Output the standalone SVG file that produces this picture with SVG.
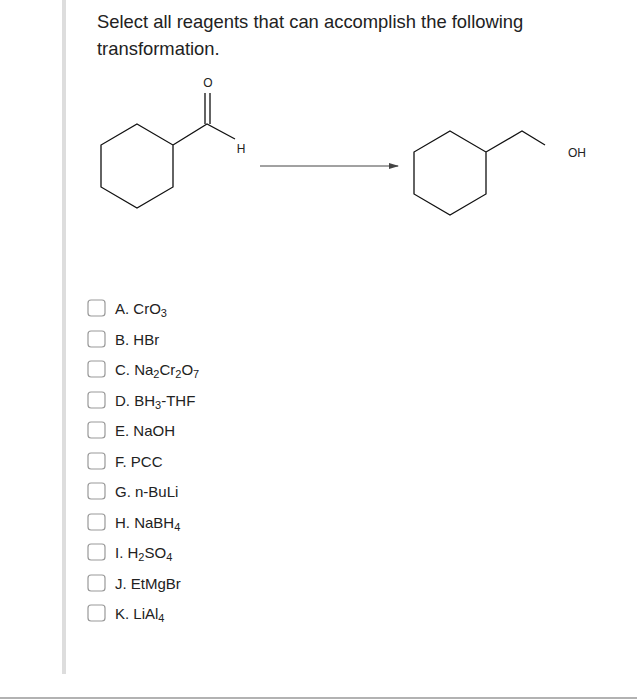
<svg xmlns="http://www.w3.org/2000/svg" width="637" height="700" viewBox="0 0 637 700">
<style>
text{font-family:"Liberation Sans",Arial,sans-serif;fill:#222}
.t{font-size:18.4px}
.o{font-size:15px}
.a{font-size:12px}
.b{fill:#fff;stroke:#999;stroke-width:1.2}
.m{fill:none;stroke:#111;stroke-width:1.3}
</style>
<defs><marker id="ar" markerWidth="10" markerHeight="8" refX="9" refY="4" orient="auto" markerUnits="userSpaceOnUse"><path d="M0,1 L10,4 L0,7 Z" fill="#444"/></marker></defs>
<rect width="637" height="700" fill="#fff"/>
<rect x="62" y="0" width="4" height="674" fill="#ddd"/>
<line x1="0" y1="698" x2="637" y2="698" stroke="#999" stroke-width="1.5"/>
<text class="t" x="97" y="28">Select all reagents that can accomplish the following</text>
<text class="t" x="97" y="55">transformation.</text>
<g id="reactant">
<path class="m" d="M137,124 L173,145 L173,187 L137,208 L101,187 L101,145 Z M173,145 L207,124 L235,139"/>
<path class="m" d="M205,124 L205,93 M210,124 L210,93"/>
<text class="a" x="208" y="87" text-anchor="middle">O</text>
<text class="a" x="241" y="153" text-anchor="middle">H</text>
</g>
<g id="connectors"><line x1="260" y1="166" x2="398" y2="166" stroke="#444" stroke-width="1" marker-end="url(#ar)"/></g>
<g id="product">
<path class="m" d="M450,131 L486,152 L486,194 L450,215 L414,194 L414,152 Z M486,152 L522,131 L545,145"/>
<text class="a" x="577" y="157" text-anchor="middle">OH</text>
</g>
<g id="options">
<rect class="b" x="88" y="300" width="17" height="16" rx="3"/><text class="o" x="115" y="314">A. CrO<tspan font-size="11" dy="3">3</tspan></text>
<rect class="b" x="88" y="331" width="17" height="16" rx="3"/><text class="o" x="115" y="345">B. HBr</text>
<rect class="b" x="88" y="361" width="17" height="16" rx="3"/><text class="o" x="115" y="375">C. Na<tspan font-size="11" dy="3">2</tspan><tspan dy="-3">Cr</tspan><tspan font-size="11" dy="3">2</tspan><tspan dy="-3">O</tspan><tspan font-size="11" dy="3">7</tspan></text>
<rect class="b" x="88" y="392" width="17" height="16" rx="3"/><text class="o" x="115" y="406">D. BH<tspan font-size="11" dy="3">3</tspan><tspan dy="-3">-THF</tspan></text>
<rect class="b" x="88" y="422" width="17" height="16" rx="3"/><text class="o" x="115" y="436">E. NaOH</text>
<rect class="b" x="88" y="453" width="17" height="16" rx="3"/><text class="o" x="115" y="467">F. PCC</text>
<rect class="b" x="88" y="483" width="17" height="16" rx="3"/><text class="o" x="115" y="497">G. n-BuLi</text>
<rect class="b" x="88" y="514" width="17" height="16" rx="3"/><text class="o" x="115" y="528">H. NaBH<tspan font-size="11" dy="3">4</tspan></text>
<rect class="b" x="88" y="544" width="17" height="16" rx="3"/><text class="o" x="115" y="558">I. H<tspan font-size="11" dy="3">2</tspan><tspan dy="-3">SO</tspan><tspan font-size="11" dy="3">4</tspan></text>
<rect class="b" x="88" y="575" width="17" height="16" rx="3"/><text class="o" x="115" y="589">J. EtMgBr</text>
<rect class="b" x="88" y="605" width="17" height="16" rx="3"/><text class="o" x="115" y="619">K. LiAl<tspan font-size="11" dy="3">4</tspan></text>
</g>
</svg>
